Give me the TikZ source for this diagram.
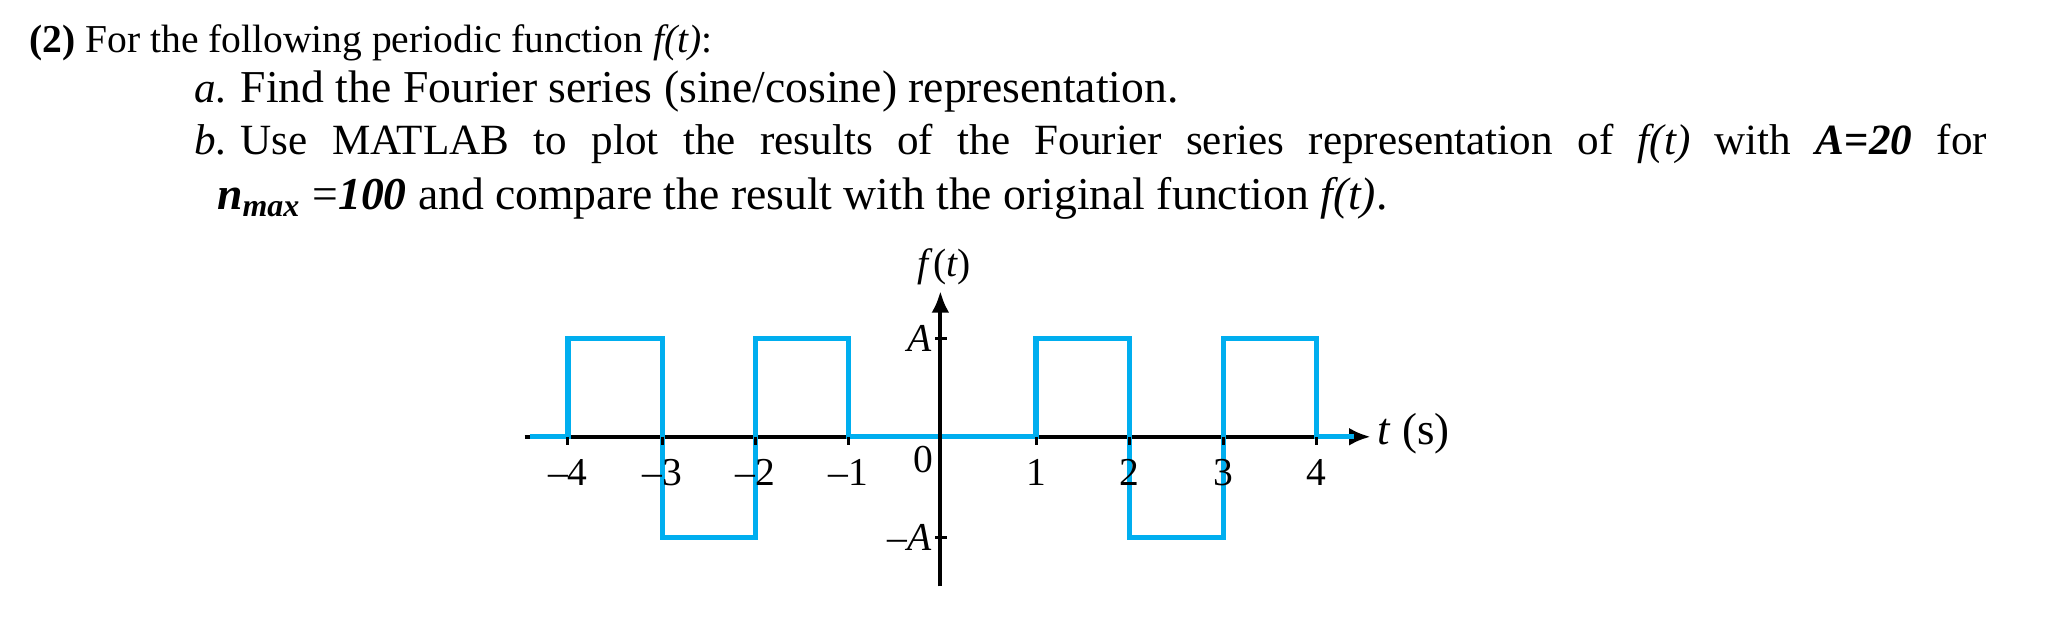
\documentclass[tikz,border=0pt]{standalone}
\usepackage{fontspec}
\setmainfont{Liberation Serif}
\usetikzlibrary{arrows.meta}
\definecolor{wave}{RGB}{0,174,239}
\begin{document}
\begin{tikzpicture}[x=0.365pt,y=-0.365pt,
  txt/.style={anchor=base west,inner sep=0pt,font=\fontsize{12}{14}\selectfont},
  lbl/.style={inner sep=0pt,font=\fontsize{11}{13}\selectfont},
  axis/.style={line width=1.1pt,-{Latex[length=6pt,width=5pt]}},
  sig/.style={wave,line width=1.5pt}]
\useasboundingbox (0,0) rectangle (1560,471);
\node[txt,font=\fontsize{11}{13}\selectfont] (l1) at (22,40) {\textbf{(2)} For the following periodic function \textit{f(t)}:};
\node[txt] (la) at (148,78) {\textit{a.}};
\node[txt,font=\fontsize{12.7}{14}\selectfont] (ta) at (183,78) {Find the Fourier series (sine/cosine) representation.};
\node[txt] (lb) at (148,118) {\textit{b.}};
\node[txt] (tb) at (183,118) {\makebox[486pt][s]{Use MATLAB to plot the results of the Fourier series representation of \textit{f(t)} with \textbf{\textit{A}=\textit{20}} for}};
\node[txt,font=\fontsize{12.7}{14}\selectfont] (tc) at (165,160) {\textbf{\textit{n}}\textsubscript{\textbf{\textit{max}}} =\textbf{\textit{100}} and compare the result with the original function \textit{f(t)}.};
% axes
\coordinate (O) at (717,333);
\coordinate (xs) at (400,333);
\coordinate (xe) at (1045,333);
\coordinate (ys) at (717,447);
\coordinate (ye) at (717,222);
\draw[axis] (xs) -- (xe);
\draw[axis] (ys) -- (ye);
\node[lbl,anchor=west,font=\fontsize{12.5}{14}\selectfont] (tl) at (1050,331) {\textit{t} (s)};
\node[lbl,anchor=south] (fl) at (720,218) {\textit{f}(\textit{t})};
% signal
\draw[sig] (404,333) -- (433,333) -- (433,258) -- (505,258) -- (505,410) -- (576,410) -- (576,258) -- (647,258) -- (647,333)
  -- (790,333) -- (790,258) -- (861,258) -- (861,410) -- (933,410) -- (933,258) -- (1004,258) -- (1004,333) -- (1032,333);
\draw[line width=1.1pt] (717,328) -- (717,338);
% ticks
\foreach \v/\x in {\textendash 4/433,\textendash 3/505,\textendash 2/576,\textendash 1/647,1/790,2/861,3/933,4/1004}{
  \draw[line width=0.8pt] (\x,333) -- (\x,339);
  \node[lbl,anchor=north] at (\x,350) {\v};
}
\node[lbl,anchor=north east] (zero) at (712,340) {0};
\draw[line width=0.8pt] (713,258) -- (722,258);
\draw[line width=0.8pt] (713,410) -- (722,410);
\node[lbl,anchor=east] (Al) at (711,258) {\textit{A}};
\node[lbl,anchor=east] (mAl) at (711,410) {\textit{\textendash A}};
\end{tikzpicture}
\end{document}
